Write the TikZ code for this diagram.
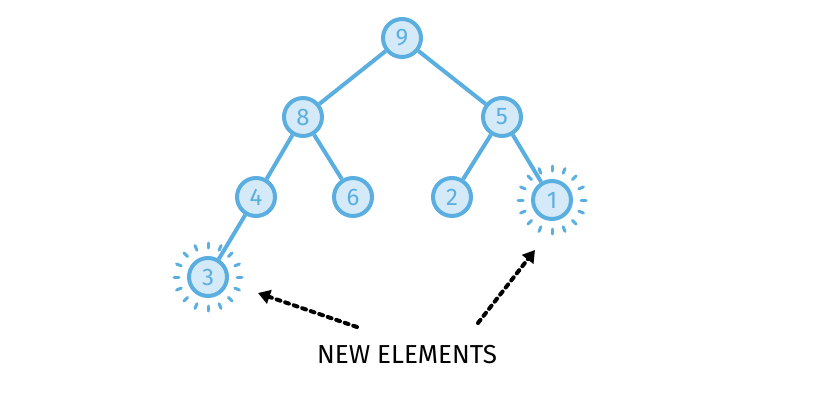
\documentclass[tikz,border=0pt]{standalone}
\usepackage{fontspec}
\setmainfont{Fira Sans}
\usetikzlibrary{arrows.meta}
\definecolor{edge}{HTML}{5AAEE0}
\definecolor{fillc}{HTML}{D4EAF8}
\begin{document}
\begin{tikzpicture}[x=1pt,y=-1pt,
  hnode/.style={circle,draw=edge,fill=fillc,line width=4pt,minimum size=38pt,inner sep=0pt,text=edge,font=\fontsize{24}{24}\selectfont},
  link/.style={edge,line width=4pt},
  ptr/.style={black,line width=4pt,dash pattern=on 4pt off 5pt,line cap=round,-{Triangle[length=12pt,width=14pt]}}]
\useasboundingbox (0,0) rectangle (826,412);
\node[hnode] (n9) at (402,38) {9};
\node[hnode] (n8) at (303,117) {8};
\node[hnode] (n5) at (502,117) {5};
\node[hnode] (n4) at (256,197) {4};
\node[hnode] (n6) at (353,197) {6};
\node[hnode] (n2) at (452,197) {2};
\node[hnode] (n1) at (552,200) {1};
\node[hnode] (n3) at (208,277) {3};
\begin{scope}[on background layer/.try]
\end{scope}
\foreach \a/\b in {n9/n8,n9/n5,n8/n4,n8/n6,n5/n2,n5/n1,n4/n3}
  \draw[link] (\a) -- (\b);
\foreach \c in {n1,n3}
  \foreach \ang in {0,22.5,...,337.5}
    \draw[edge,line width=3pt,line cap=round] (\c) ++(\ang:29) -- ++(\ang:5);
\node[font=\fontsize{26}{26}\selectfont] (lbl) at (407,355) {NEW ELEMENTS};
\coordinate (s1) at (357,327);
\coordinate (s2) at (478,323);
\draw[ptr] (s1) -- (258,293);
\draw[ptr] (s2) -- (535,250);
\end{tikzpicture}
\end{document}
